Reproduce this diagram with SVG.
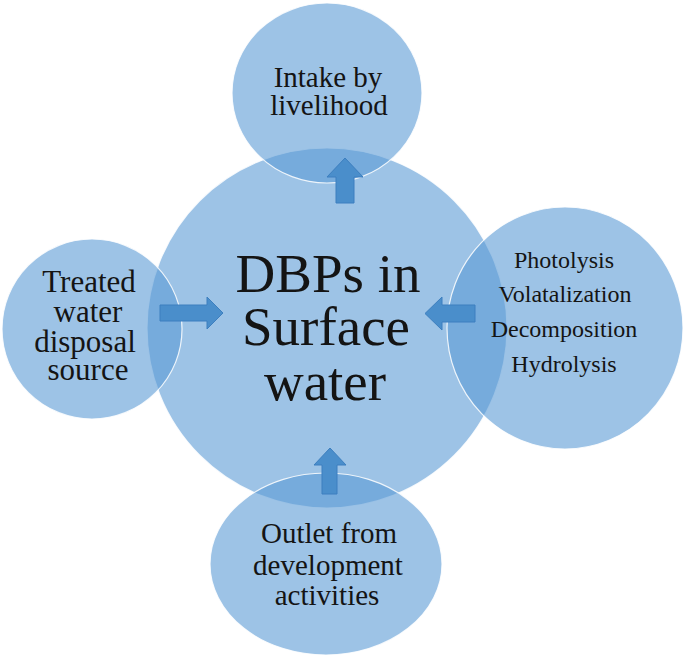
<svg xmlns="http://www.w3.org/2000/svg" width="685" height="657" viewBox="0 0 685 657">
  <style>
    .bubble { fill: #5b9bd5; fill-opacity: 0.6; stroke: #ffffff; stroke-width: 1.2; stroke-opacity: 0.85; }
    .arrow { fill: #4a8ecb; stroke: #3d7fbf; stroke-width: 1; }
    text { font-family: "Liberation Serif", "Times New Roman", "DejaVu Serif", serif; fill: #141414; text-anchor: middle; }
    .big { font-size: 55px; }
    .mid { font-size: 29px; }
    .left { font-size: 31px; }
    .small { font-size: 24px; }
  </style>
  <rect width="685" height="657" fill="#ffffff"/>
  <g id="center">
    <circle class="bubble" cx="327" cy="328" r="180"/>
    <text class="big" x="328" y="292">DBPs in</text>
    <text class="big" x="326" y="345">Surface</text>
    <text class="big" x="325" y="400">water</text>
  </g>
  <g id="intake">
    <ellipse class="bubble" cx="327" cy="93" rx="95" ry="90"/>
    <text class="mid" x="328" y="87">Intake by</text>
    <text class="mid" x="329" y="115">livelihood</text>
  </g>
  <g id="treated">
    <circle class="bubble" cx="92" cy="329" r="90"/>
    <text class="left" x="89" y="292">Treated</text>
    <text class="left" x="88" y="322">water</text>
    <text class="left" x="85" y="352">disposal</text>
    <text class="left" x="88" y="380">source</text>
  </g>
  <g id="processes">
    <ellipse class="bubble" cx="565" cy="328" rx="118" ry="121"/>
    <text class="small" x="564" y="268">Photolysis</text>
    <text class="small" x="565" y="302">Volatalization</text>
    <text class="small" x="564" y="337">Decomposition</text>
    <text class="small" x="564" y="372">Hydrolysis</text>
  </g>
  <g id="outlet">
    <ellipse class="bubble" cx="326" cy="564" rx="116" ry="91"/>
    <text class="mid" x="329" y="543">Outlet from</text>
    <text class="mid" x="328" y="575">development</text>
    <text class="mid" x="327" y="605">activities</text>
  </g>
  <g id="connectors">
    <path class="arrow" d="M160,305 H207 V297 L223,313 L207,329 V321 H160 Z"/>
    <path class="arrow" d="M475,305 H442 V297 L425,313.5 L442,330 V322 H475 Z"/>
    <path class="arrow" d="M336,203 V177 H327 L345,158 L363,177 H354 V203 Z"/>
    <path class="arrow" d="M322,494 V465 H314 L330,448 L346,465 H337 V494 Z"/>
  </g>
</svg>
